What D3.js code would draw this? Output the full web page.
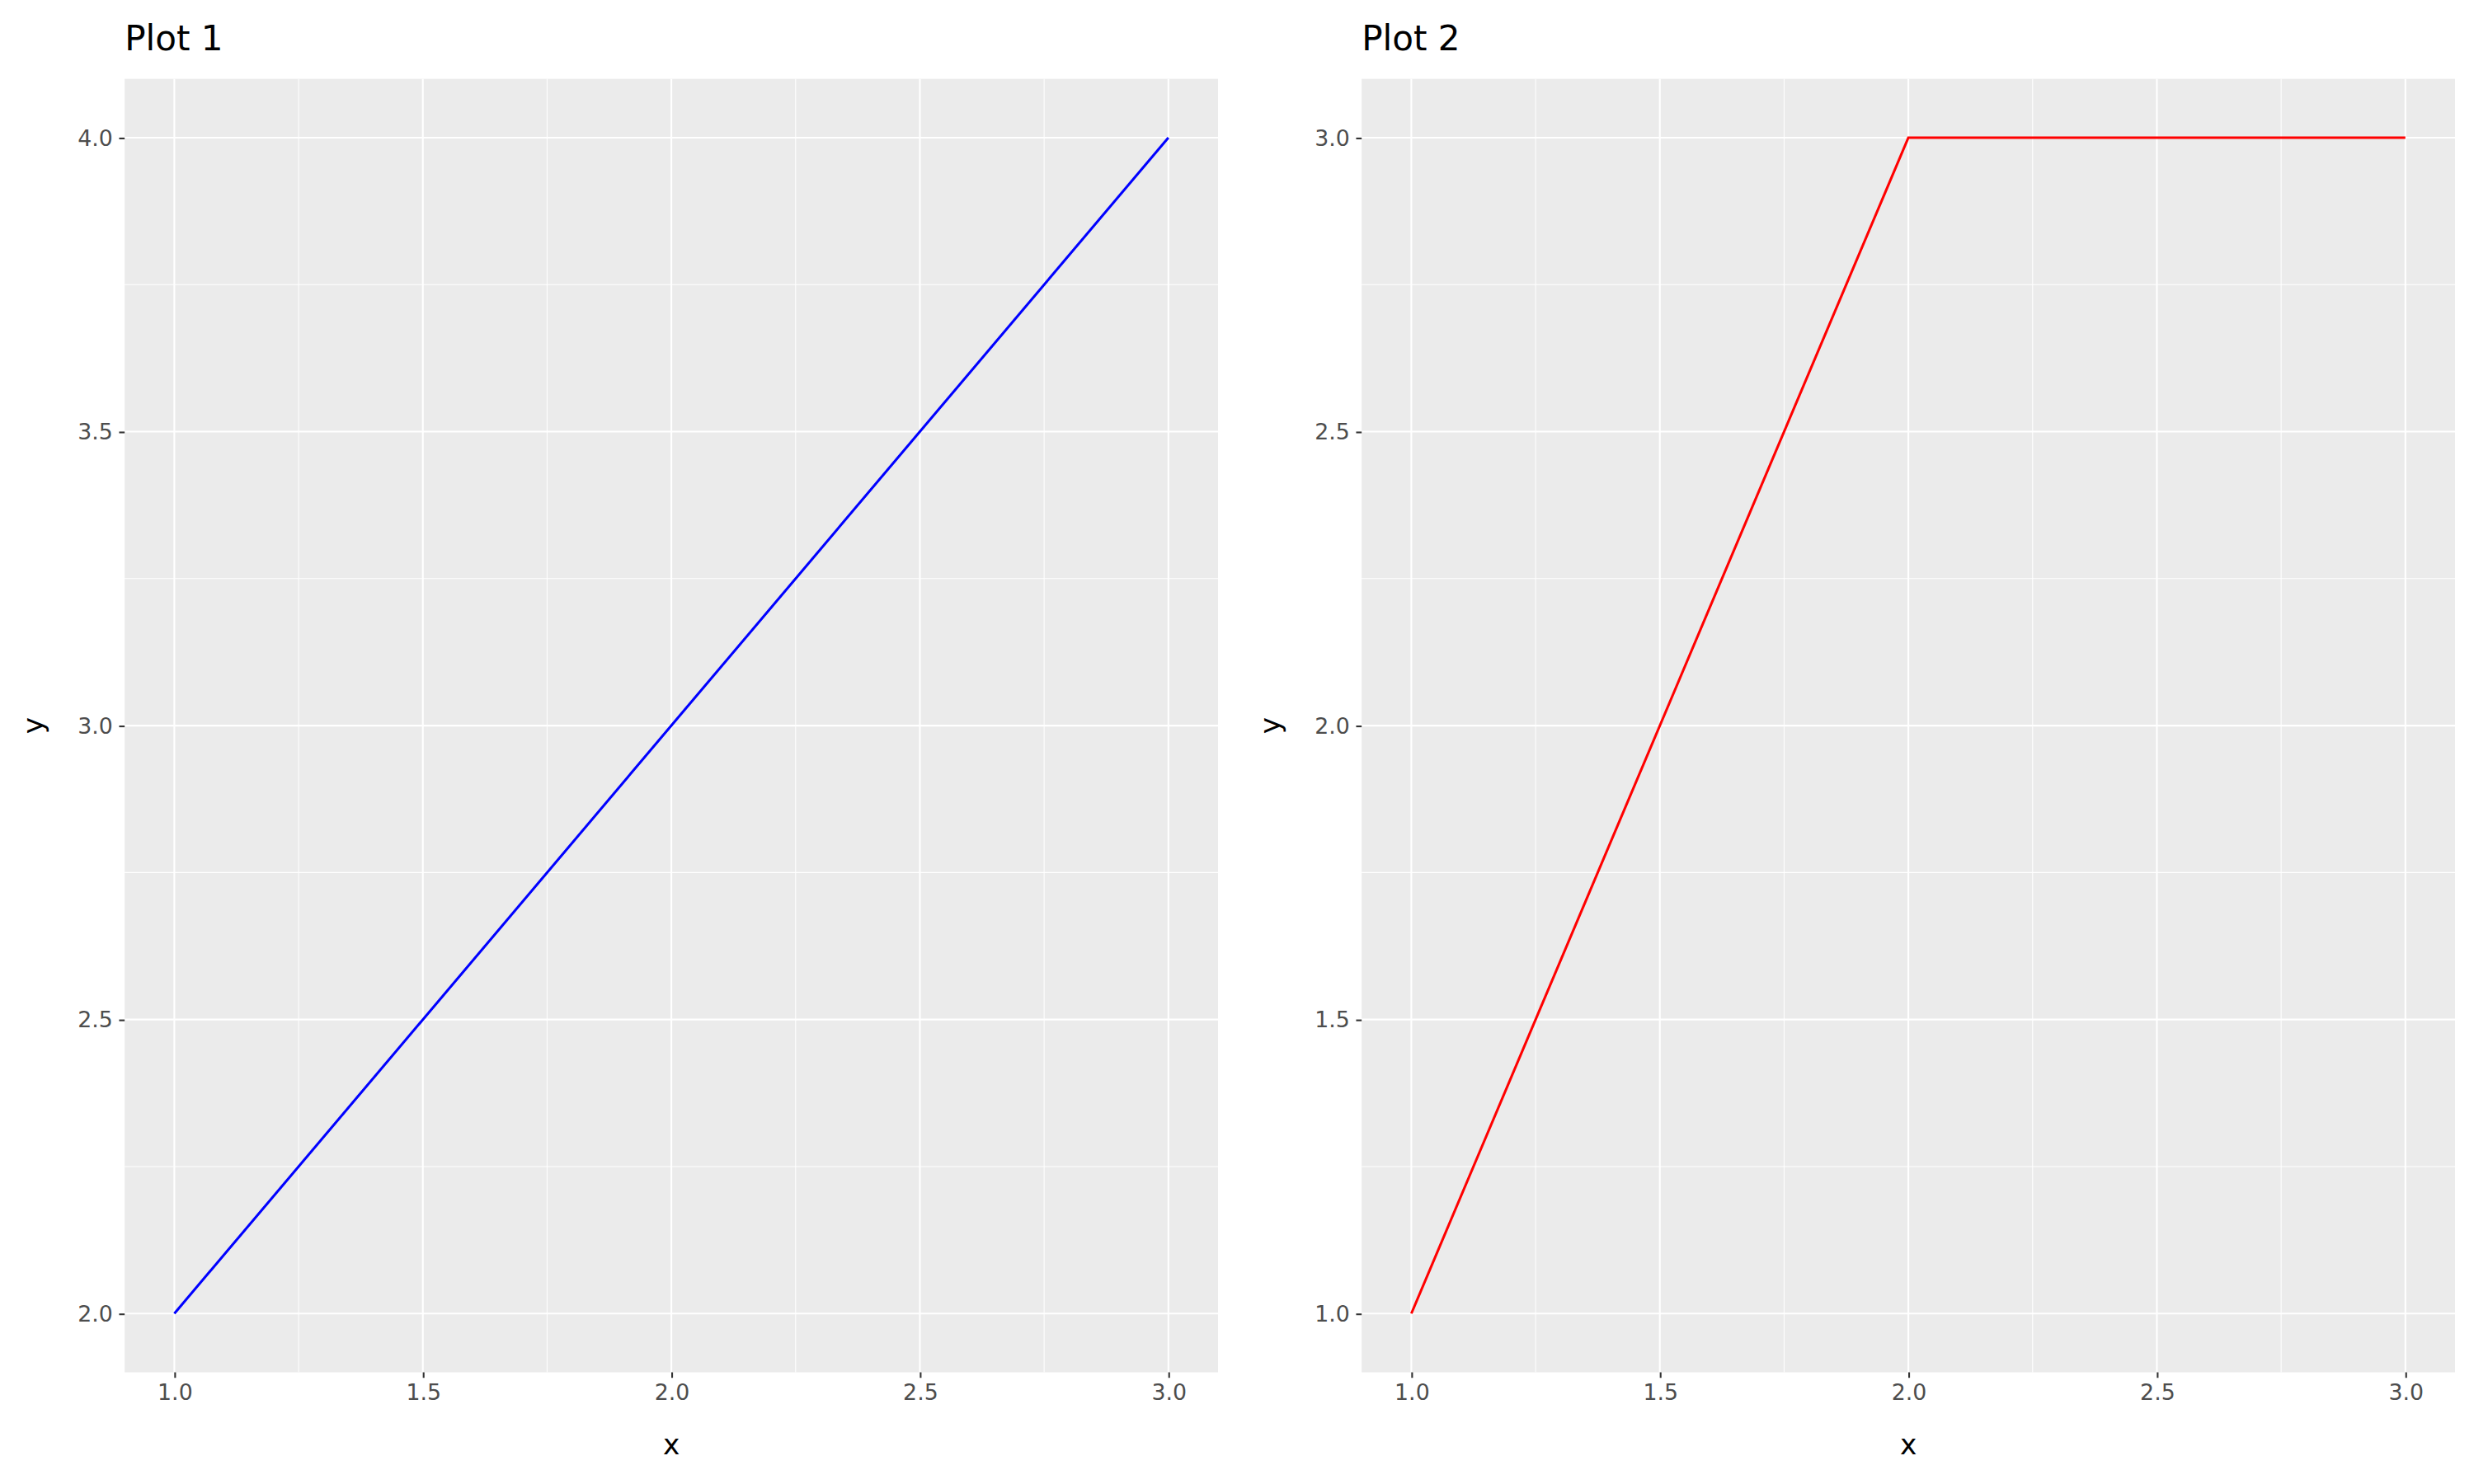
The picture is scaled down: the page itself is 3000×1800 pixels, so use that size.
<!DOCTYPE html>
<html><head><meta charset="utf-8">
<script src="https://cdn.jsdelivr.net/npm/d3@7"></script>
<style>body{margin:0;background:#fff}</style>
</head><body>
<div id="chart"></div>
<script>
// data
var xs1 = [1, 2, 3];
var ys1 = [2, 3, 4];
var xs2 = [1, 2, 3];
var ys2 = [1, 3, 3];
var xTicks = [1.0, 1.5, 2.0, 2.5, 3.0];
var yTicks1 = [2.0, 2.5, 3.0, 3.5, 4.0];
var yTicks2 = [1.0, 1.5, 2.0, 2.5, 3.0];

var svg = d3.select("#chart").append("svg")
  .attr("width", 3000).attr("height", 1800)
  .attr("viewBox", "0 0 1568 940.8")
  .style("font-family", "DejaVu Sans, sans-serif");

function panel(left, title, xs, ys, yTicks, colour) {
  var top = 50, bottom = 870, right = left + 693;
  var g = svg.append("g");
  var xScale = d3.scaleLinear().domain([0.9, 3.1]).range([left, right]);
  var y0 = d3.min(ys), y1 = d3.max(ys), pad = (y1 - y0) * 0.05;
  var yScale = d3.scaleLinear().domain([y0 - pad, y1 + pad]).range([bottom, top]);

  g.append("rect").attr("x", left).attr("y", top)
    .attr("width", right - left).attr("height", bottom - top).attr("fill", "#ebebeb");

  var xMinor = d3.range(xTicks.length - 1).map(i => (xTicks[i] + xTicks[i + 1]) / 2);
  var yMinor = d3.range(yTicks.length - 1).map(i => (yTicks[i] + yTicks[i + 1]) / 2);

  g.selectAll(".xm").data(xMinor).enter().append("line")
    .attr("x1", d => xScale(d)).attr("x2", d => xScale(d)).attr("y1", top).attr("y2", bottom)
    .attr("stroke", "#fff").attr("stroke-width", 0.55);
  g.selectAll(".ym").data(yMinor).enter().append("line")
    .attr("y1", d => yScale(d)).attr("y2", d => yScale(d)).attr("x1", left).attr("x2", right)
    .attr("stroke", "#fff").attr("stroke-width", 0.55);
  g.selectAll(".xg").data(xTicks).enter().append("line")
    .attr("x1", d => xScale(d)).attr("x2", d => xScale(d)).attr("y1", top).attr("y2", bottom)
    .attr("stroke", "#fff").attr("stroke-width", 1.1);
  g.selectAll(".yg").data(yTicks).enter().append("line")
    .attr("y1", d => yScale(d)).attr("y2", d => yScale(d)).attr("x1", left).attr("x2", right)
    .attr("stroke", "#fff").attr("stroke-width", 1.1);

  var xAxis = g.append("g").attr("transform", `translate(0,${bottom})`)
    .call(d3.axisBottom(xScale).tickValues(xTicks).tickFormat(d3.format(".1f")).tickSize(3.5).tickPadding(4));
  var yAxis = g.append("g").attr("transform", `translate(${left},0)`)
    .call(d3.axisLeft(yScale).tickValues(yTicks).tickFormat(d3.format(".1f")).tickSize(3.5).tickPadding(4));
  [xAxis, yAxis].forEach(function(a) {
    a.select(".domain").remove();
    a.selectAll("line").attr("stroke", "#333").attr("stroke-width", 1.1);
    a.selectAll("text").attr("fill", "#4d4d4d").style("font-size", "14px").style("font-family", "DejaVu Sans, sans-serif");
  });

  var pts = xs.map((d, i) => [d, ys[i]]);
  g.append("path").datum(pts)
    .attr("d", d3.line().x(d => xScale(d[0])).y(d => yScale(d[1])))
    .attr("fill", "none").attr("stroke", colour).attr("stroke-width", 1.6);

  g.append("text").attr("x", (left + right) / 2).attr("y", 922).attr("text-anchor", "middle")
    .style("font-size", "18px").text("x");
  g.append("text").attr("transform", `translate(${left - 58},${(top + bottom) / 2}) rotate(-90)`)
    .attr("text-anchor", "middle").attr("dy", "0.35em").style("font-size", "18px").text("y");
  g.append("text").attr("x", left).attr("y", 32).style("font-size", "22px").text(title);
}

panel(79, "Plot 1", xs1, ys1, yTicks1, "blue");
panel(863, "Plot 2", xs2, ys2, yTicks2, "red");
</script>
</body></html>
